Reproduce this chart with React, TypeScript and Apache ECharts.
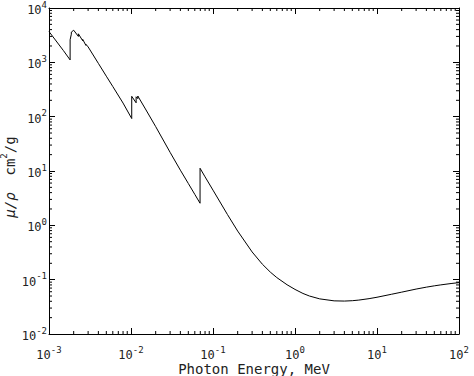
import React, { useEffect, useRef } from 'react';
import * as echarts from 'echarts';

// Photon energy (MeV) and mass attenuation coefficient mu/rho (cm^2/g)
const energyMeV = [
  1.0e-3, 1.5e-3, 1.809e-3, 1.809e-3, 1.872e-3, 1.872e-3, 2.0e-3, 2.281e-3, 2.281e-3,
  2.575e-3, 2.575e-3, 2.82e-3, 2.82e-3, 3.0e-3, 4.0e-3, 5.0e-3, 6.0e-3, 8.0e-3, 1.0e-2,
  1.0207e-2, 1.0207e-2, 1.1544e-2, 1.1544e-2, 1.21e-2, 1.21e-2, 1.5e-2, 2.0e-2, 3.0e-2,
  4.0e-2, 5.0e-2, 6.0e-2, 6.9525e-2, 6.9525e-2, 8.0e-2, 0.1, 0.15, 0.2, 0.3, 0.4, 0.5,
  0.6, 0.8, 1, 1.25, 1.5, 2, 3, 4, 5, 6, 8, 10, 15, 20, 30, 40, 50, 60, 80, 100,
];
const muRho = [
  3683, 1643, 1108, 2600, 3300, 3600, 3900, 3000, 3350,
  2500, 2650, 2050, 2150, 1924, 956.4, 555.9, 358.8, 177.9, 97.43,
  92.36, 236.8, 180, 232, 215, 240, 138.5, 65.63, 22.04,
  10.36, 5.893, 3.713, 2.552, 11.23, 7.81, 4.438, 1.581, 0.7844, 0.3238, 0.1925, 0.1378,
  0.1093, 0.08066, 0.06618, 0.05577, 0.05, 0.04433, 0.04075, 0.04038, 0.04103, 0.0421,
  0.04472, 0.04747, 0.05384, 0.05893, 0.06714, 0.07281, 0.07697, 0.08017, 0.0849, 0.08818,
];

// axis extents and minor tick layout
const xMin = 1e-3;
const xMax = 1e2;
const yMin = 1e-2;
const yMax = 1e4;
const xDecades = [1e-3, 1e-2, 1e-1, 1, 10];
const yDecades = [1e-2, 1e-1, 1, 10, 100, 1000];
const minorMultipliers = [2, 3, 4, 5, 6, 7, 8, 9];

const FONT = 'DejaVu Sans Mono';
const TEXT = '#222';

const rich = {
  b: { fontFamily: FONT, fontSize: 12, color: TEXT, lineHeight: 16, verticalAlign: 'bottom' },
  s: { fontFamily: FONT, fontSize: 9, color: TEXT, lineHeight: 10, verticalAlign: 'top' },
};

const powLabel = (v: number) => {
  const e = Math.round(Math.log10(v));
  return `{b|10}{s|${e}}`;
};

export default function App() {
  const ref = useRef<HTMLDivElement>(null);
  useEffect(() => {
    document.body.style.margin = '0';
    const chart = echarts.init(ref.current!, null, { renderer: 'svg' });
    const xMinor: number[][] = [];
    xDecades.forEach((d) => minorMultipliers.forEach((m) => xMinor.push([d * m, 1])));
    const yMinor: number[][] = [];
    yDecades.forEach((d) => minorMultipliers.forEach((m) => yMinor.push([1, d * m])));

    const axisLine = { show: true, lineStyle: { color: '#000', width: 1 } };
    const tick = { show: true, inside: true, length: 6, lineStyle: { color: '#000', width: 1 } };
    const minorLen = 3;
    const stroke = { stroke: '#000', lineWidth: 1 };

    chart.setOption({
      animation: false,
      backgroundColor: '#fff',
      grid: { left: 49, right: 15, top: 8, bottom: 42, containLabel: false, outerBoundsMode: 'none' },
      xAxis: [
        {
          type: 'log', logBase: 10, min: xMin, max: xMax, position: 'bottom',
          axisLine, axisTick: tick, splitLine: { show: false },
          axisLabel: { formatter: powLabel, rich, margin: 11 },
          name: 'Photon Energy, MeV', nameLocation: 'middle', nameGap: 28, nameMoveOverlap: false,
          nameTextStyle: { fontFamily: FONT, fontSize: 14, lineHeight: 14, color: TEXT },
        },
        {
          type: 'log', logBase: 10, min: xMin, max: xMax, position: 'top',
          axisLine, axisTick: tick, splitLine: { show: false }, axisLabel: { show: false },
        },
      ],
      yAxis: [
        {
          type: 'log', logBase: 10, min: yMin, max: yMax, position: 'left',
          axisLine, axisTick: tick, splitLine: { show: false },
          axisLabel: { formatter: powLabel, rich, margin: 2 },
          name: '{i|μ/ρ}  {n|cm}{s|2}{n|/g}', nameLocation: 'middle', nameGap: 32, nameRotate: 90,
          nameMoveOverlap: false,
          nameTextStyle: {
            fontFamily: FONT, fontSize: 14, color: TEXT, padding: [0, 12, 0, 0],
            rich: {
              i: { fontFamily: FONT, fontSize: 14, fontStyle: 'italic', color: TEXT, lineHeight: 18, verticalAlign: 'bottom' },
              n: { fontFamily: FONT, fontSize: 14, color: TEXT, lineHeight: 18, verticalAlign: 'bottom' },
              s: { fontFamily: FONT, fontSize: 9, color: TEXT, lineHeight: 10, verticalAlign: 'top' },
            },
          },
        },
        {
          type: 'log', logBase: 10, min: yMin, max: yMax, position: 'right',
          axisLine, axisTick: tick, splitLine: { show: false }, axisLabel: { show: false },
        },
      ],
      series: [
        {
          type: 'line',
          xAxisIndex: 0, yAxisIndex: 0,
          data: energyMeV.map((e, i) => [e, muRho[i]]),
          showSymbol: false, symbol: 'none',
          lineStyle: { color: '#000', width: 1 },
          z: 3,
        },
        {
          type: 'custom', coordinateSystem: 'cartesian2d', xAxisIndex: 0, yAxisIndex: 0,
          silent: true, data: xMinor,
          renderItem: (params: any, api: any) => {
            const p = api.coord([api.value(0), api.value(1)]);
            const cs = params.coordSys;
            const top = cs.y, bottom = cs.y + cs.height;
            return {
              type: 'group',
              children: [
                { type: 'line', shape: { x1: p[0], y1: bottom, x2: p[0], y2: bottom - minorLen }, style: stroke },
                { type: 'line', shape: { x1: p[0], y1: top, x2: p[0], y2: top + minorLen }, style: stroke },
              ],
            };
          },
        },
        {
          type: 'custom', coordinateSystem: 'cartesian2d', xAxisIndex: 0, yAxisIndex: 0,
          silent: true, data: yMinor,
          renderItem: (params: any, api: any) => {
            const p = api.coord([api.value(0), api.value(1)]);
            const cs = params.coordSys;
            const left = cs.x, right = cs.x + cs.width;
            return {
              type: 'group',
              children: [
                { type: 'line', shape: { x1: left, y1: p[1], x2: left + minorLen, y2: p[1] }, style: stroke },
                { type: 'line', shape: { x1: right, y1: p[1], x2: right - minorLen, y2: p[1] }, style: stroke },
              ],
            };
          },
        },
      ],
    });
    return () => chart.dispose();
  }, []);
  return <div ref={ref} style={{ width: 474, height: 376 }} />;
}
